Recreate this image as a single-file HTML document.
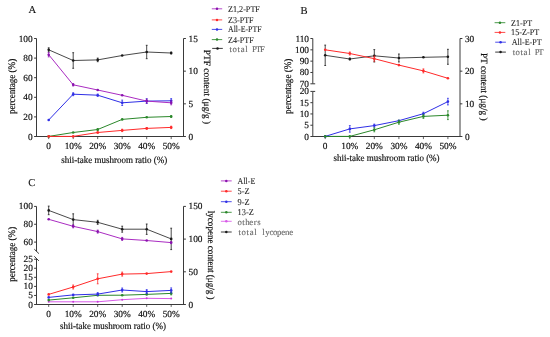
<!DOCTYPE html>
<html><head><meta charset="utf-8"><style>
html,body{margin:0;padding:0;background:#fff;}
svg{display:block;will-change:transform;text-rendering:geometricPrecision;}
</style></head><body>
<svg width="550" height="337" viewBox="0 0 550 337">
<rect width="550" height="337" fill="#fff"/>
<text x="28.50" y="12.80" font-family="Liberation Serif, serif" font-size="10.6" text-anchor="start" fill="#111" stroke="#111" stroke-width="0.12" >A</text>
<line x1="36.50" y1="38.50" x2="36.50" y2="137.00" stroke="#3a3a3a" stroke-width="1.0" />
<line x1="36.00" y1="136.50" x2="184.00" y2="136.50" stroke="#3a3a3a" stroke-width="1.0" />
<line x1="183.50" y1="38.50" x2="183.50" y2="137.00" stroke="#3a3a3a" stroke-width="1.0" />
<line x1="34.10" y1="136.50" x2="36.50" y2="136.50" stroke="#3a3a3a" stroke-width="1.0" />
<text x="32.60" y="139.50" font-family="Liberation Serif, serif" font-size="9.3" text-anchor="end" fill="#111" stroke="#111" stroke-width="0.18" >0</text>
<line x1="34.10" y1="116.90" x2="36.50" y2="116.90" stroke="#3a3a3a" stroke-width="1.0" />
<text x="32.60" y="119.90" font-family="Liberation Serif, serif" font-size="9.3" text-anchor="end" fill="#111" stroke="#111" stroke-width="0.18" >20</text>
<line x1="34.10" y1="97.30" x2="36.50" y2="97.30" stroke="#3a3a3a" stroke-width="1.0" />
<text x="32.60" y="100.30" font-family="Liberation Serif, serif" font-size="9.3" text-anchor="end" fill="#111" stroke="#111" stroke-width="0.18" >40</text>
<line x1="34.10" y1="77.70" x2="36.50" y2="77.70" stroke="#3a3a3a" stroke-width="1.0" />
<text x="32.60" y="80.70" font-family="Liberation Serif, serif" font-size="9.3" text-anchor="end" fill="#111" stroke="#111" stroke-width="0.18" >60</text>
<line x1="34.10" y1="58.10" x2="36.50" y2="58.10" stroke="#3a3a3a" stroke-width="1.0" />
<text x="32.60" y="61.10" font-family="Liberation Serif, serif" font-size="9.3" text-anchor="end" fill="#111" stroke="#111" stroke-width="0.18" >80</text>
<line x1="34.10" y1="38.50" x2="36.50" y2="38.50" stroke="#3a3a3a" stroke-width="1.0" />
<text x="32.60" y="41.50" font-family="Liberation Serif, serif" font-size="9.3" text-anchor="end" fill="#111" stroke="#111" stroke-width="0.18" >100</text>
<line x1="183.50" y1="136.50" x2="185.90" y2="136.50" stroke="#3a3a3a" stroke-width="1.0" />
<text x="188.50" y="139.50" font-family="Liberation Serif, serif" font-size="9.3" text-anchor="start" fill="#111" stroke="#111" stroke-width="0.18" >0</text>
<line x1="183.50" y1="103.83" x2="185.90" y2="103.83" stroke="#3a3a3a" stroke-width="1.0" />
<text x="188.50" y="106.83" font-family="Liberation Serif, serif" font-size="9.3" text-anchor="start" fill="#111" stroke="#111" stroke-width="0.18" >5</text>
<line x1="183.50" y1="71.17" x2="185.90" y2="71.17" stroke="#3a3a3a" stroke-width="1.0" />
<text x="188.50" y="74.17" font-family="Liberation Serif, serif" font-size="9.3" text-anchor="start" fill="#111" stroke="#111" stroke-width="0.18" >10</text>
<line x1="183.50" y1="38.50" x2="185.90" y2="38.50" stroke="#3a3a3a" stroke-width="1.0" />
<text x="188.50" y="41.50" font-family="Liberation Serif, serif" font-size="9.3" text-anchor="start" fill="#111" stroke="#111" stroke-width="0.18" >15</text>
<line x1="48.70" y1="136.50" x2="48.70" y2="139.10" stroke="#3a3a3a" stroke-width="0.8" />
<text x="48.70" y="148.50" font-family="Liberation Serif, serif" font-size="9.3" text-anchor="middle" fill="#111" stroke="#111" stroke-width="0.18" >0</text>
<line x1="73.20" y1="136.50" x2="73.20" y2="139.10" stroke="#3a3a3a" stroke-width="0.8" />
<text x="73.20" y="148.50" font-family="Liberation Serif, serif" font-size="9.3" text-anchor="middle" fill="#111" stroke="#111" stroke-width="0.18" >10%</text>
<line x1="97.70" y1="136.50" x2="97.70" y2="139.10" stroke="#3a3a3a" stroke-width="0.8" />
<text x="97.70" y="148.50" font-family="Liberation Serif, serif" font-size="9.3" text-anchor="middle" fill="#111" stroke="#111" stroke-width="0.18" >20%</text>
<line x1="122.20" y1="136.50" x2="122.20" y2="139.10" stroke="#3a3a3a" stroke-width="0.8" />
<text x="122.20" y="148.50" font-family="Liberation Serif, serif" font-size="9.3" text-anchor="middle" fill="#111" stroke="#111" stroke-width="0.18" >30%</text>
<line x1="146.70" y1="136.50" x2="146.70" y2="139.10" stroke="#3a3a3a" stroke-width="0.8" />
<text x="146.70" y="148.50" font-family="Liberation Serif, serif" font-size="9.3" text-anchor="middle" fill="#111" stroke="#111" stroke-width="0.18" >40%</text>
<line x1="171.20" y1="136.50" x2="171.20" y2="139.10" stroke="#3a3a3a" stroke-width="0.8" />
<text x="171.20" y="148.50" font-family="Liberation Serif, serif" font-size="9.3" text-anchor="middle" fill="#111" stroke="#111" stroke-width="0.18" >50%</text>
<text x="114.30" y="162.50" font-family="Liberation Serif, serif" font-size="9.6" text-anchor="middle" fill="#111" stroke="#111" stroke-width="0.18" textLength="106.00" lengthAdjust="spacingAndGlyphs" >shii-take mushroom ratio (%)</text>
<text x="14.80" y="86.40" font-family="Liberation Serif, serif" font-size="10.0" text-anchor="middle" fill="#111" stroke="#111" stroke-width="0.18" textLength="55.20" lengthAdjust="spacingAndGlyphs" transform="rotate(-90 14.80 86.40)" >percentage (%)</text>
<text x="203.90" y="87.00" font-family="Liberation Serif, serif" font-size="9.6" text-anchor="middle" fill="#111" stroke="#111" stroke-width="0.18" textLength="74.50" lengthAdjust="spacingAndGlyphs" transform="rotate(90 203.90 87.00)" >PTF content (μg/g )</text>
<polyline points="48.70,49.80 73.20,60.50 97.70,59.90 122.20,55.50 146.70,52.00 171.20,53.00" fill="none" stroke="#1a1a1a" stroke-width="0.8"/>
<line x1="48.70" y1="47.80" x2="48.70" y2="51.80" stroke="#1a1a1a" stroke-width="0.8" />
<line x1="47.80" y1="47.80" x2="49.60" y2="47.80" stroke="#1a1a1a" stroke-width="0.8" />
<line x1="47.80" y1="51.80" x2="49.60" y2="51.80" stroke="#1a1a1a" stroke-width="0.8" />
<line x1="73.20" y1="52.70" x2="73.20" y2="68.30" stroke="#1a1a1a" stroke-width="0.8" />
<line x1="72.30" y1="52.70" x2="74.10" y2="52.70" stroke="#1a1a1a" stroke-width="0.8" />
<line x1="72.30" y1="68.30" x2="74.10" y2="68.30" stroke="#1a1a1a" stroke-width="0.8" />
<line x1="97.70" y1="58.10" x2="97.70" y2="61.70" stroke="#1a1a1a" stroke-width="0.8" />
<line x1="96.80" y1="58.10" x2="98.60" y2="58.10" stroke="#1a1a1a" stroke-width="0.8" />
<line x1="96.80" y1="61.70" x2="98.60" y2="61.70" stroke="#1a1a1a" stroke-width="0.8" />
<line x1="146.70" y1="45.30" x2="146.70" y2="58.70" stroke="#1a1a1a" stroke-width="0.8" />
<line x1="145.80" y1="45.30" x2="147.60" y2="45.30" stroke="#1a1a1a" stroke-width="0.8" />
<line x1="145.80" y1="58.70" x2="147.60" y2="58.70" stroke="#1a1a1a" stroke-width="0.8" />
<line x1="171.20" y1="52.00" x2="171.20" y2="54.00" stroke="#1a1a1a" stroke-width="0.8" />
<line x1="170.30" y1="52.00" x2="172.10" y2="52.00" stroke="#1a1a1a" stroke-width="0.8" />
<line x1="170.30" y1="54.00" x2="172.10" y2="54.00" stroke="#1a1a1a" stroke-width="0.8" />
<circle cx="48.70" cy="49.80" r="1.3" fill="#1a1a1a"/>
<circle cx="73.20" cy="60.50" r="1.3" fill="#1a1a1a"/>
<circle cx="97.70" cy="59.90" r="1.3" fill="#1a1a1a"/>
<circle cx="122.20" cy="55.50" r="1.3" fill="#1a1a1a"/>
<circle cx="146.70" cy="52.00" r="1.3" fill="#1a1a1a"/>
<circle cx="171.20" cy="53.00" r="1.3" fill="#1a1a1a"/>
<polyline points="48.70,136.40 73.20,132.50 97.70,129.50 122.20,119.40 146.70,117.30 171.20,116.50" fill="none" stroke="#2b882b" stroke-width="1.0"/>
<line x1="97.70" y1="128.50" x2="97.70" y2="130.50" stroke="#2b882b" stroke-width="0.8" />
<line x1="96.80" y1="128.50" x2="98.60" y2="128.50" stroke="#2b882b" stroke-width="0.8" />
<line x1="96.80" y1="130.50" x2="98.60" y2="130.50" stroke="#2b882b" stroke-width="0.8" />
<line x1="171.20" y1="115.50" x2="171.20" y2="117.50" stroke="#2b882b" stroke-width="0.8" />
<line x1="170.30" y1="115.50" x2="172.10" y2="115.50" stroke="#2b882b" stroke-width="0.8" />
<line x1="170.30" y1="117.50" x2="172.10" y2="117.50" stroke="#2b882b" stroke-width="0.8" />
<circle cx="48.70" cy="136.40" r="1.3" fill="#2b882b"/>
<circle cx="73.20" cy="132.50" r="1.3" fill="#2b882b"/>
<circle cx="97.70" cy="129.50" r="1.3" fill="#2b882b"/>
<circle cx="122.20" cy="119.40" r="1.3" fill="#2b882b"/>
<circle cx="146.70" cy="117.30" r="1.3" fill="#2b882b"/>
<circle cx="171.20" cy="116.50" r="1.3" fill="#2b882b"/>
<polyline points="48.70,136.40 73.20,136.40 97.70,132.50 122.20,130.40 146.70,128.40 171.20,127.40" fill="none" stroke="#ff2a2a" stroke-width="1.0"/>
<line x1="97.70" y1="131.70" x2="97.70" y2="133.30" stroke="#ff2a2a" stroke-width="0.8" />
<line x1="96.80" y1="131.70" x2="98.60" y2="131.70" stroke="#ff2a2a" stroke-width="0.8" />
<line x1="96.80" y1="133.30" x2="98.60" y2="133.30" stroke="#ff2a2a" stroke-width="0.8" />
<line x1="122.20" y1="129.20" x2="122.20" y2="131.60" stroke="#ff2a2a" stroke-width="0.8" />
<line x1="121.30" y1="129.20" x2="123.10" y2="129.20" stroke="#ff2a2a" stroke-width="0.8" />
<line x1="121.30" y1="131.60" x2="123.10" y2="131.60" stroke="#ff2a2a" stroke-width="0.8" />
<line x1="146.70" y1="127.60" x2="146.70" y2="129.20" stroke="#ff2a2a" stroke-width="0.8" />
<line x1="145.80" y1="127.60" x2="147.60" y2="127.60" stroke="#ff2a2a" stroke-width="0.8" />
<line x1="145.80" y1="129.20" x2="147.60" y2="129.20" stroke="#ff2a2a" stroke-width="0.8" />
<line x1="171.20" y1="126.20" x2="171.20" y2="128.60" stroke="#ff2a2a" stroke-width="0.8" />
<line x1="170.30" y1="126.20" x2="172.10" y2="126.20" stroke="#ff2a2a" stroke-width="0.8" />
<line x1="170.30" y1="128.60" x2="172.10" y2="128.60" stroke="#ff2a2a" stroke-width="0.8" />
<circle cx="48.70" cy="136.40" r="1.3" fill="#ff2a2a"/>
<circle cx="73.20" cy="136.40" r="1.3" fill="#ff2a2a"/>
<circle cx="97.70" cy="132.50" r="1.3" fill="#ff2a2a"/>
<circle cx="122.20" cy="130.40" r="1.3" fill="#ff2a2a"/>
<circle cx="146.70" cy="128.40" r="1.3" fill="#ff2a2a"/>
<circle cx="171.20" cy="127.40" r="1.3" fill="#ff2a2a"/>
<polyline points="48.70,120.00 73.20,94.20 97.70,95.20 122.20,102.80 146.70,101.10 171.20,100.80" fill="none" stroke="#2f2fe6" stroke-width="1.0"/>
<line x1="73.20" y1="92.70" x2="73.20" y2="95.70" stroke="#2f2fe6" stroke-width="0.8" />
<line x1="72.30" y1="92.70" x2="74.10" y2="92.70" stroke="#2f2fe6" stroke-width="0.8" />
<line x1="72.30" y1="95.70" x2="74.10" y2="95.70" stroke="#2f2fe6" stroke-width="0.8" />
<line x1="97.70" y1="94.00" x2="97.70" y2="96.40" stroke="#2f2fe6" stroke-width="0.8" />
<line x1="96.80" y1="94.00" x2="98.60" y2="94.00" stroke="#2f2fe6" stroke-width="0.8" />
<line x1="96.80" y1="96.40" x2="98.60" y2="96.40" stroke="#2f2fe6" stroke-width="0.8" />
<line x1="122.20" y1="100.10" x2="122.20" y2="105.50" stroke="#2f2fe6" stroke-width="0.8" />
<line x1="121.30" y1="100.10" x2="123.10" y2="100.10" stroke="#2f2fe6" stroke-width="0.8" />
<line x1="121.30" y1="105.50" x2="123.10" y2="105.50" stroke="#2f2fe6" stroke-width="0.8" />
<line x1="146.70" y1="98.70" x2="146.70" y2="103.50" stroke="#2f2fe6" stroke-width="0.8" />
<line x1="145.80" y1="98.70" x2="147.60" y2="98.70" stroke="#2f2fe6" stroke-width="0.8" />
<line x1="145.80" y1="103.50" x2="147.60" y2="103.50" stroke="#2f2fe6" stroke-width="0.8" />
<line x1="171.20" y1="98.60" x2="171.20" y2="103.00" stroke="#2f2fe6" stroke-width="0.8" />
<line x1="170.30" y1="98.60" x2="172.10" y2="98.60" stroke="#2f2fe6" stroke-width="0.8" />
<line x1="170.30" y1="103.00" x2="172.10" y2="103.00" stroke="#2f2fe6" stroke-width="0.8" />
<circle cx="48.70" cy="120.00" r="1.3" fill="#2f2fe6"/>
<circle cx="73.20" cy="94.20" r="1.3" fill="#2f2fe6"/>
<circle cx="97.70" cy="95.20" r="1.3" fill="#2f2fe6"/>
<circle cx="122.20" cy="102.80" r="1.3" fill="#2f2fe6"/>
<circle cx="146.70" cy="101.10" r="1.3" fill="#2f2fe6"/>
<circle cx="171.20" cy="100.80" r="1.3" fill="#2f2fe6"/>
<polyline points="48.70,54.70 73.20,84.80 97.70,90.00 122.20,95.30 146.70,101.10 171.20,102.80" fill="none" stroke="#aa2cc2" stroke-width="1.0"/>
<line x1="48.70" y1="52.50" x2="48.70" y2="56.90" stroke="#8a12ae" stroke-width="0.8" />
<line x1="47.80" y1="52.50" x2="49.60" y2="52.50" stroke="#8a12ae" stroke-width="0.8" />
<line x1="47.80" y1="56.90" x2="49.60" y2="56.90" stroke="#8a12ae" stroke-width="0.8" />
<line x1="73.20" y1="83.60" x2="73.20" y2="86.00" stroke="#8a12ae" stroke-width="0.8" />
<line x1="72.30" y1="83.60" x2="74.10" y2="83.60" stroke="#8a12ae" stroke-width="0.8" />
<line x1="72.30" y1="86.00" x2="74.10" y2="86.00" stroke="#8a12ae" stroke-width="0.8" />
<line x1="146.70" y1="99.10" x2="146.70" y2="103.10" stroke="#8a12ae" stroke-width="0.8" />
<line x1="145.80" y1="99.10" x2="147.60" y2="99.10" stroke="#8a12ae" stroke-width="0.8" />
<line x1="145.80" y1="103.10" x2="147.60" y2="103.10" stroke="#8a12ae" stroke-width="0.8" />
<line x1="171.20" y1="100.80" x2="171.20" y2="104.80" stroke="#8a12ae" stroke-width="0.8" />
<line x1="170.30" y1="100.80" x2="172.10" y2="100.80" stroke="#8a12ae" stroke-width="0.8" />
<line x1="170.30" y1="104.80" x2="172.10" y2="104.80" stroke="#8a12ae" stroke-width="0.8" />
<circle cx="48.70" cy="54.70" r="1.3" fill="#8a12ae"/>
<circle cx="73.20" cy="84.80" r="1.3" fill="#8a12ae"/>
<circle cx="97.70" cy="90.00" r="1.3" fill="#8a12ae"/>
<circle cx="122.20" cy="95.30" r="1.3" fill="#8a12ae"/>
<circle cx="146.70" cy="101.10" r="1.3" fill="#8a12ae"/>
<circle cx="171.20" cy="102.80" r="1.3" fill="#8a12ae"/>
<line x1="211.80" y1="8.80" x2="222.20" y2="8.80" stroke="#aa2cc2" stroke-width="1.0" stroke-opacity="0.85"/>
<circle cx="217.00" cy="8.80" r="1.25" fill="#8a12ae"/>
<text x="228.00" y="11.70" font-family="Liberation Serif, serif" font-size="8.9" text-anchor="start" fill="#222" stroke="#222" stroke-width="0.08" textLength="31.90" lengthAdjust="spacingAndGlyphs" >Z1,2-PTF</text>
<line x1="211.80" y1="19.90" x2="222.20" y2="19.90" stroke="#ff2a2a" stroke-width="1.0" stroke-opacity="0.85"/>
<circle cx="217.00" cy="19.90" r="1.25" fill="#ff2a2a"/>
<text x="228.00" y="22.80" font-family="Liberation Serif, serif" font-size="8.9" text-anchor="start" fill="#222" stroke="#222" stroke-width="0.08" textLength="25.60" lengthAdjust="spacingAndGlyphs" >Z3-PTF</text>
<line x1="211.80" y1="29.40" x2="222.20" y2="29.40" stroke="#2f2fe6" stroke-width="1.0" stroke-opacity="0.85"/>
<circle cx="217.00" cy="29.40" r="1.25" fill="#2f2fe6"/>
<text x="228.00" y="32.30" font-family="Liberation Serif, serif" font-size="8.9" text-anchor="start" fill="#222" stroke="#222" stroke-width="0.08" textLength="33.60" lengthAdjust="spacingAndGlyphs" >All-E-PTF</text>
<line x1="211.80" y1="39.60" x2="222.20" y2="39.60" stroke="#2b882b" stroke-width="1.0" stroke-opacity="0.85"/>
<circle cx="217.00" cy="39.60" r="1.25" fill="#2b882b"/>
<text x="228.00" y="42.50" font-family="Liberation Serif, serif" font-size="8.9" text-anchor="start" fill="#222" stroke="#222" stroke-width="0.08" textLength="25.70" lengthAdjust="spacingAndGlyphs" >Z4-PTF</text>
<line x1="212.20" y1="48.40" x2="222.80" y2="48.40" stroke="#1a1a1a" stroke-width="1.0" stroke-opacity="0.85"/>
<circle cx="217.50" cy="48.40" r="1.25" fill="#1a1a1a"/>
<text x="229.55 232.53 237.46 240.69 245.37 249.45 252.06 255.77 259.97" y="51.60" font-family="Liberation Serif, serif" font-size="8.8" fill="#666" stroke="#666" stroke-width="0.1" xml:space="preserve">total PTF</text>
<text x="300.40" y="14.40" font-family="Liberation Serif, serif" font-size="10.6" text-anchor="start" fill="#111" stroke="#111" stroke-width="0.12" >B</text>
<line x1="312.80" y1="38.50" x2="312.80" y2="83.80" stroke="#3a3a3a" stroke-width="1.0" />
<line x1="310.40" y1="83.80" x2="312.80" y2="83.80" stroke="#3a3a3a" stroke-width="1.0" />
<text x="309.00" y="86.80" font-family="Liberation Serif, serif" font-size="9.3" text-anchor="end" fill="#111" stroke="#111" stroke-width="0.18" >70</text>
<line x1="310.40" y1="72.47" x2="312.80" y2="72.47" stroke="#3a3a3a" stroke-width="1.0" />
<text x="309.00" y="75.47" font-family="Liberation Serif, serif" font-size="9.3" text-anchor="end" fill="#111" stroke="#111" stroke-width="0.18" >80</text>
<line x1="310.40" y1="61.15" x2="312.80" y2="61.15" stroke="#3a3a3a" stroke-width="1.0" />
<text x="309.00" y="64.15" font-family="Liberation Serif, serif" font-size="9.3" text-anchor="end" fill="#111" stroke="#111" stroke-width="0.18" >90</text>
<line x1="310.40" y1="49.83" x2="312.80" y2="49.83" stroke="#3a3a3a" stroke-width="1.0" />
<text x="309.00" y="52.83" font-family="Liberation Serif, serif" font-size="9.3" text-anchor="end" fill="#111" stroke="#111" stroke-width="0.18" >100</text>
<line x1="310.40" y1="38.50" x2="312.80" y2="38.50" stroke="#3a3a3a" stroke-width="1.0" />
<text x="309.00" y="41.50" font-family="Liberation Serif, serif" font-size="9.3" text-anchor="end" fill="#111" stroke="#111" stroke-width="0.18" >110</text>
<line x1="312.80" y1="83.80" x2="315.20" y2="83.80" stroke="#3a3a3a" stroke-width="1.0" />
<line x1="312.80" y1="91.40" x2="312.80" y2="137.00" stroke="#3a3a3a" stroke-width="1.0" />
<line x1="310.40" y1="136.50" x2="312.80" y2="136.50" stroke="#3a3a3a" stroke-width="1.0" />
<text x="309.00" y="139.50" font-family="Liberation Serif, serif" font-size="9.3" text-anchor="end" fill="#111" stroke="#111" stroke-width="0.18" >0</text>
<line x1="310.40" y1="125.22" x2="312.80" y2="125.22" stroke="#3a3a3a" stroke-width="1.0" />
<text x="309.00" y="128.22" font-family="Liberation Serif, serif" font-size="9.3" text-anchor="end" fill="#111" stroke="#111" stroke-width="0.18" >5</text>
<line x1="310.40" y1="113.95" x2="312.80" y2="113.95" stroke="#3a3a3a" stroke-width="1.0" />
<text x="309.00" y="116.95" font-family="Liberation Serif, serif" font-size="9.3" text-anchor="end" fill="#111" stroke="#111" stroke-width="0.18" >10</text>
<line x1="310.40" y1="102.68" x2="312.80" y2="102.68" stroke="#3a3a3a" stroke-width="1.0" />
<text x="309.00" y="105.68" font-family="Liberation Serif, serif" font-size="9.3" text-anchor="end" fill="#111" stroke="#111" stroke-width="0.18" >15</text>
<line x1="310.40" y1="91.40" x2="312.80" y2="91.40" stroke="#3a3a3a" stroke-width="1.0" />
<text x="309.00" y="94.40" font-family="Liberation Serif, serif" font-size="9.3" text-anchor="end" fill="#111" stroke="#111" stroke-width="0.18" >20</text>
<line x1="312.80" y1="91.40" x2="315.20" y2="91.40" stroke="#3a3a3a" stroke-width="1.0" />
<line x1="312.30" y1="136.50" x2="460.50" y2="136.50" stroke="#3a3a3a" stroke-width="1.0" />
<line x1="460.00" y1="38.50" x2="460.00" y2="137.00" stroke="#3a3a3a" stroke-width="1.0" />
<line x1="460.00" y1="136.50" x2="462.40" y2="136.50" stroke="#3a3a3a" stroke-width="1.0" />
<text x="464.90" y="139.50" font-family="Liberation Serif, serif" font-size="9.3" text-anchor="start" fill="#111" stroke="#111" stroke-width="0.18" >0</text>
<line x1="460.00" y1="103.83" x2="462.40" y2="103.83" stroke="#3a3a3a" stroke-width="1.0" />
<text x="464.90" y="106.83" font-family="Liberation Serif, serif" font-size="9.3" text-anchor="start" fill="#111" stroke="#111" stroke-width="0.18" >10</text>
<line x1="460.00" y1="71.17" x2="462.40" y2="71.17" stroke="#3a3a3a" stroke-width="1.0" />
<text x="464.90" y="74.17" font-family="Liberation Serif, serif" font-size="9.3" text-anchor="start" fill="#111" stroke="#111" stroke-width="0.18" >20</text>
<line x1="460.00" y1="38.50" x2="462.40" y2="38.50" stroke="#3a3a3a" stroke-width="1.0" />
<text x="464.90" y="41.50" font-family="Liberation Serif, serif" font-size="9.3" text-anchor="start" fill="#111" stroke="#111" stroke-width="0.18" >30</text>
<line x1="325.20" y1="136.50" x2="325.20" y2="139.10" stroke="#3a3a3a" stroke-width="0.8" />
<text x="325.20" y="148.60" font-family="Liberation Serif, serif" font-size="9.3" text-anchor="middle" fill="#111" stroke="#111" stroke-width="0.18" >0</text>
<line x1="349.80" y1="136.50" x2="349.80" y2="139.10" stroke="#3a3a3a" stroke-width="0.8" />
<text x="349.80" y="148.60" font-family="Liberation Serif, serif" font-size="9.3" text-anchor="middle" fill="#111" stroke="#111" stroke-width="0.18" >10%</text>
<line x1="374.30" y1="136.50" x2="374.30" y2="139.10" stroke="#3a3a3a" stroke-width="0.8" />
<text x="374.30" y="148.60" font-family="Liberation Serif, serif" font-size="9.3" text-anchor="middle" fill="#111" stroke="#111" stroke-width="0.18" >20%</text>
<line x1="398.90" y1="136.50" x2="398.90" y2="139.10" stroke="#3a3a3a" stroke-width="0.8" />
<text x="398.90" y="148.60" font-family="Liberation Serif, serif" font-size="9.3" text-anchor="middle" fill="#111" stroke="#111" stroke-width="0.18" >30%</text>
<line x1="423.40" y1="136.50" x2="423.40" y2="139.10" stroke="#3a3a3a" stroke-width="0.8" />
<text x="423.40" y="148.60" font-family="Liberation Serif, serif" font-size="9.3" text-anchor="middle" fill="#111" stroke="#111" stroke-width="0.18" >40%</text>
<line x1="447.90" y1="136.50" x2="447.90" y2="139.10" stroke="#3a3a3a" stroke-width="0.8" />
<text x="447.90" y="148.60" font-family="Liberation Serif, serif" font-size="9.3" text-anchor="middle" fill="#111" stroke="#111" stroke-width="0.18" >50%</text>
<text x="386.60" y="160.80" font-family="Liberation Serif, serif" font-size="9.6" text-anchor="middle" fill="#111" stroke="#111" stroke-width="0.18" textLength="106.00" lengthAdjust="spacingAndGlyphs" >shii-take mushroom ratio (%)</text>
<text x="291.00" y="86.30" font-family="Liberation Serif, serif" font-size="10.0" text-anchor="middle" fill="#111" stroke="#111" stroke-width="0.18" textLength="55.20" lengthAdjust="spacingAndGlyphs" transform="rotate(-90 291.00 86.30)" >percentage (%)</text>
<text x="481.00" y="86.80" font-family="Liberation Serif, serif" font-size="9.6" text-anchor="middle" fill="#111" stroke="#111" stroke-width="0.18" textLength="67.40" lengthAdjust="spacingAndGlyphs" transform="rotate(90 481.00 86.80)" >PT content (μg/g )</text>
<polyline points="325.20,55.30 349.80,59.00 374.30,55.80 398.90,58.00 423.40,57.30 447.90,56.80" fill="none" stroke="#1a1a1a" stroke-width="0.8"/>
<line x1="325.20" y1="45.10" x2="325.20" y2="65.50" stroke="#1a1a1a" stroke-width="0.8" />
<line x1="324.30" y1="45.10" x2="326.10" y2="45.10" stroke="#1a1a1a" stroke-width="0.8" />
<line x1="324.30" y1="65.50" x2="326.10" y2="65.50" stroke="#1a1a1a" stroke-width="0.8" />
<line x1="349.80" y1="58.00" x2="349.80" y2="60.00" stroke="#1a1a1a" stroke-width="0.8" />
<line x1="348.90" y1="58.00" x2="350.70" y2="58.00" stroke="#1a1a1a" stroke-width="0.8" />
<line x1="348.90" y1="60.00" x2="350.70" y2="60.00" stroke="#1a1a1a" stroke-width="0.8" />
<line x1="374.30" y1="49.60" x2="374.30" y2="62.00" stroke="#1a1a1a" stroke-width="0.8" />
<line x1="373.40" y1="49.60" x2="375.20" y2="49.60" stroke="#1a1a1a" stroke-width="0.8" />
<line x1="373.40" y1="62.00" x2="375.20" y2="62.00" stroke="#1a1a1a" stroke-width="0.8" />
<line x1="398.90" y1="54.00" x2="398.90" y2="62.00" stroke="#1a1a1a" stroke-width="0.8" />
<line x1="398.00" y1="54.00" x2="399.80" y2="54.00" stroke="#1a1a1a" stroke-width="0.8" />
<line x1="398.00" y1="62.00" x2="399.80" y2="62.00" stroke="#1a1a1a" stroke-width="0.8" />
<line x1="447.90" y1="49.30" x2="447.90" y2="64.30" stroke="#1a1a1a" stroke-width="0.8" />
<line x1="447.00" y1="49.30" x2="448.80" y2="49.30" stroke="#1a1a1a" stroke-width="0.8" />
<line x1="447.00" y1="64.30" x2="448.80" y2="64.30" stroke="#1a1a1a" stroke-width="0.8" />
<circle cx="325.20" cy="55.30" r="1.3" fill="#1a1a1a"/>
<circle cx="349.80" cy="59.00" r="1.3" fill="#1a1a1a"/>
<circle cx="374.30" cy="55.80" r="1.3" fill="#1a1a1a"/>
<circle cx="398.90" cy="58.00" r="1.3" fill="#1a1a1a"/>
<circle cx="423.40" cy="57.30" r="1.3" fill="#1a1a1a"/>
<circle cx="447.90" cy="56.80" r="1.3" fill="#1a1a1a"/>
<polyline points="325.20,49.80 349.80,53.50 374.30,58.70 398.90,65.10 423.40,70.90 447.90,78.30" fill="none" stroke="#ff2a2a" stroke-width="1.0"/>
<line x1="349.80" y1="52.00" x2="349.80" y2="55.00" stroke="#ff2a2a" stroke-width="0.8" />
<line x1="348.90" y1="52.00" x2="350.70" y2="52.00" stroke="#ff2a2a" stroke-width="0.8" />
<line x1="348.90" y1="55.00" x2="350.70" y2="55.00" stroke="#ff2a2a" stroke-width="0.8" />
<line x1="374.30" y1="56.20" x2="374.30" y2="61.20" stroke="#ff2a2a" stroke-width="0.8" />
<line x1="373.40" y1="56.20" x2="375.20" y2="56.20" stroke="#ff2a2a" stroke-width="0.8" />
<line x1="373.40" y1="61.20" x2="375.20" y2="61.20" stroke="#ff2a2a" stroke-width="0.8" />
<line x1="423.40" y1="68.90" x2="423.40" y2="72.90" stroke="#ff2a2a" stroke-width="0.8" />
<line x1="422.50" y1="68.90" x2="424.30" y2="68.90" stroke="#ff2a2a" stroke-width="0.8" />
<line x1="422.50" y1="72.90" x2="424.30" y2="72.90" stroke="#ff2a2a" stroke-width="0.8" />
<circle cx="325.20" cy="49.80" r="1.3" fill="#ff2a2a"/>
<circle cx="349.80" cy="53.50" r="1.3" fill="#ff2a2a"/>
<circle cx="374.30" cy="58.70" r="1.3" fill="#ff2a2a"/>
<circle cx="398.90" cy="65.10" r="1.3" fill="#ff2a2a"/>
<circle cx="423.40" cy="70.90" r="1.3" fill="#ff2a2a"/>
<circle cx="447.90" cy="78.30" r="1.3" fill="#ff2a2a"/>
<polyline points="325.20,136.40 349.80,128.90 374.30,125.60 398.90,120.70 423.40,113.70 447.90,101.60" fill="none" stroke="#2f2fe6" stroke-width="1.0"/>
<line x1="349.80" y1="125.60" x2="349.80" y2="132.20" stroke="#2f2fe6" stroke-width="0.8" />
<line x1="348.90" y1="125.60" x2="350.70" y2="125.60" stroke="#2f2fe6" stroke-width="0.8" />
<line x1="348.90" y1="132.20" x2="350.70" y2="132.20" stroke="#2f2fe6" stroke-width="0.8" />
<line x1="374.30" y1="124.10" x2="374.30" y2="127.10" stroke="#2f2fe6" stroke-width="0.8" />
<line x1="373.40" y1="124.10" x2="375.20" y2="124.10" stroke="#2f2fe6" stroke-width="0.8" />
<line x1="373.40" y1="127.10" x2="375.20" y2="127.10" stroke="#2f2fe6" stroke-width="0.8" />
<line x1="423.40" y1="112.20" x2="423.40" y2="115.20" stroke="#2f2fe6" stroke-width="0.8" />
<line x1="422.50" y1="112.20" x2="424.30" y2="112.20" stroke="#2f2fe6" stroke-width="0.8" />
<line x1="422.50" y1="115.20" x2="424.30" y2="115.20" stroke="#2f2fe6" stroke-width="0.8" />
<line x1="447.90" y1="98.30" x2="447.90" y2="104.90" stroke="#2f2fe6" stroke-width="0.8" />
<line x1="447.00" y1="98.30" x2="448.80" y2="98.30" stroke="#2f2fe6" stroke-width="0.8" />
<line x1="447.00" y1="104.90" x2="448.80" y2="104.90" stroke="#2f2fe6" stroke-width="0.8" />
<circle cx="325.20" cy="136.40" r="1.3" fill="#2f2fe6"/>
<circle cx="349.80" cy="128.90" r="1.3" fill="#2f2fe6"/>
<circle cx="374.30" cy="125.60" r="1.3" fill="#2f2fe6"/>
<circle cx="398.90" cy="120.70" r="1.3" fill="#2f2fe6"/>
<circle cx="423.40" cy="113.70" r="1.3" fill="#2f2fe6"/>
<circle cx="447.90" cy="101.60" r="1.3" fill="#2f2fe6"/>
<polyline points="325.20,136.40 349.80,136.40 374.30,129.80 398.90,122.20 423.40,116.40 447.90,115.20" fill="none" stroke="#2b882b" stroke-width="1.0"/>
<line x1="374.30" y1="127.80" x2="374.30" y2="131.80" stroke="#2b882b" stroke-width="0.8" />
<line x1="373.40" y1="127.80" x2="375.20" y2="127.80" stroke="#2b882b" stroke-width="0.8" />
<line x1="373.40" y1="131.80" x2="375.20" y2="131.80" stroke="#2b882b" stroke-width="0.8" />
<line x1="398.90" y1="120.20" x2="398.90" y2="124.20" stroke="#2b882b" stroke-width="0.8" />
<line x1="398.00" y1="120.20" x2="399.80" y2="120.20" stroke="#2b882b" stroke-width="0.8" />
<line x1="398.00" y1="124.20" x2="399.80" y2="124.20" stroke="#2b882b" stroke-width="0.8" />
<line x1="423.40" y1="114.40" x2="423.40" y2="118.40" stroke="#2b882b" stroke-width="0.8" />
<line x1="422.50" y1="114.40" x2="424.30" y2="114.40" stroke="#2b882b" stroke-width="0.8" />
<line x1="422.50" y1="118.40" x2="424.30" y2="118.40" stroke="#2b882b" stroke-width="0.8" />
<line x1="447.90" y1="110.80" x2="447.90" y2="119.60" stroke="#2b882b" stroke-width="0.8" />
<line x1="447.00" y1="110.80" x2="448.80" y2="110.80" stroke="#2b882b" stroke-width="0.8" />
<line x1="447.00" y1="119.60" x2="448.80" y2="119.60" stroke="#2b882b" stroke-width="0.8" />
<circle cx="325.20" cy="136.40" r="1.3" fill="#2b882b"/>
<circle cx="349.80" cy="136.40" r="1.3" fill="#2b882b"/>
<circle cx="374.30" cy="129.80" r="1.3" fill="#2b882b"/>
<circle cx="398.90" cy="122.20" r="1.3" fill="#2b882b"/>
<circle cx="423.40" cy="116.40" r="1.3" fill="#2b882b"/>
<circle cx="447.90" cy="115.20" r="1.3" fill="#2b882b"/>
<line x1="494.60" y1="22.70" x2="505.30" y2="22.70" stroke="#2b882b" stroke-width="1.0" stroke-opacity="0.85"/>
<circle cx="499.95" cy="22.70" r="1.25" fill="#2b882b"/>
<text x="511.10" y="25.60" font-family="Liberation Serif, serif" font-size="8.9" text-anchor="start" fill="#222" stroke="#222" stroke-width="0.08" textLength="21.00" lengthAdjust="spacingAndGlyphs" >Z1-PT</text>
<line x1="494.60" y1="32.40" x2="505.30" y2="32.40" stroke="#ff2a2a" stroke-width="1.0" stroke-opacity="0.85"/>
<circle cx="499.95" cy="32.40" r="1.25" fill="#ff2a2a"/>
<text x="511.10" y="35.30" font-family="Liberation Serif, serif" font-size="8.9" text-anchor="start" fill="#222" stroke="#222" stroke-width="0.08" textLength="28.10" lengthAdjust="spacingAndGlyphs" >15-Z-PT</text>
<line x1="495.20" y1="42.20" x2="505.90" y2="42.20" stroke="#2f2fe6" stroke-width="1.0" stroke-opacity="0.85"/>
<circle cx="500.55" cy="42.20" r="1.25" fill="#2f2fe6"/>
<text x="511.70" y="45.10" font-family="Liberation Serif, serif" font-size="8.9" text-anchor="start" fill="#222" stroke="#222" stroke-width="0.08" textLength="30.00" lengthAdjust="spacingAndGlyphs" >All-E-PT</text>
<line x1="495.20" y1="52.10" x2="505.90" y2="52.10" stroke="#1a1a1a" stroke-width="1.0" stroke-opacity="0.85"/>
<circle cx="500.55" cy="52.10" r="1.25" fill="#1a1a1a"/>
<text x="512.71 515.59 520.43 523.56 528.15 532.13 534.64 538.26" y="55.30" font-family="Liberation Serif, serif" font-size="8.8" fill="#666" stroke="#666" stroke-width="0.1" xml:space="preserve">total PT</text>
<text x="28.30" y="186.40" font-family="Liberation Serif, serif" font-size="10.6" text-anchor="start" fill="#111" stroke="#111" stroke-width="0.12" >C</text>
<line x1="36.50" y1="206.40" x2="36.50" y2="251.30" stroke="#3a3a3a" stroke-width="1.0" />
<line x1="34.10" y1="242.10" x2="36.50" y2="242.10" stroke="#3a3a3a" stroke-width="1.0" />
<text x="32.80" y="245.10" font-family="Liberation Serif, serif" font-size="9.3" text-anchor="end" fill="#111" stroke="#111" stroke-width="0.18" >60</text>
<line x1="34.10" y1="224.25" x2="36.50" y2="224.25" stroke="#3a3a3a" stroke-width="1.0" />
<text x="32.80" y="227.25" font-family="Liberation Serif, serif" font-size="9.3" text-anchor="end" fill="#111" stroke="#111" stroke-width="0.18" >80</text>
<line x1="34.10" y1="206.40" x2="36.50" y2="206.40" stroke="#3a3a3a" stroke-width="1.0" />
<text x="32.80" y="209.40" font-family="Liberation Serif, serif" font-size="9.3" text-anchor="end" fill="#111" stroke="#111" stroke-width="0.18" >100</text>
<line x1="34.30" y1="249.20" x2="38.90" y2="253.60" stroke="#3a3a3a" stroke-width="1.0" />
<line x1="34.30" y1="256.30" x2="38.90" y2="260.90" stroke="#3a3a3a" stroke-width="1.0" />
<line x1="36.50" y1="258.60" x2="36.50" y2="305.00" stroke="#3a3a3a" stroke-width="1.0" />
<line x1="34.10" y1="304.50" x2="36.50" y2="304.50" stroke="#3a3a3a" stroke-width="1.0" />
<text x="32.80" y="307.50" font-family="Liberation Serif, serif" font-size="9.3" text-anchor="end" fill="#111" stroke="#111" stroke-width="0.18" >0</text>
<line x1="34.10" y1="295.44" x2="36.50" y2="295.44" stroke="#3a3a3a" stroke-width="1.0" />
<text x="32.80" y="298.44" font-family="Liberation Serif, serif" font-size="9.3" text-anchor="end" fill="#111" stroke="#111" stroke-width="0.18" >5</text>
<line x1="34.10" y1="286.38" x2="36.50" y2="286.38" stroke="#3a3a3a" stroke-width="1.0" />
<text x="32.80" y="289.38" font-family="Liberation Serif, serif" font-size="9.3" text-anchor="end" fill="#111" stroke="#111" stroke-width="0.18" >10</text>
<line x1="34.10" y1="277.32" x2="36.50" y2="277.32" stroke="#3a3a3a" stroke-width="1.0" />
<text x="32.80" y="280.32" font-family="Liberation Serif, serif" font-size="9.3" text-anchor="end" fill="#111" stroke="#111" stroke-width="0.18" >15</text>
<line x1="34.10" y1="268.26" x2="36.50" y2="268.26" stroke="#3a3a3a" stroke-width="1.0" />
<text x="32.80" y="271.26" font-family="Liberation Serif, serif" font-size="9.3" text-anchor="end" fill="#111" stroke="#111" stroke-width="0.18" >20</text>
<line x1="34.10" y1="259.20" x2="36.50" y2="259.20" stroke="#3a3a3a" stroke-width="1.0" />
<text x="32.80" y="262.20" font-family="Liberation Serif, serif" font-size="9.3" text-anchor="end" fill="#111" stroke="#111" stroke-width="0.18" >25</text>
<line x1="36.00" y1="304.50" x2="184.00" y2="304.50" stroke="#3a3a3a" stroke-width="1.0" />
<line x1="183.50" y1="206.40" x2="183.50" y2="305.00" stroke="#3a3a3a" stroke-width="1.0" />
<line x1="183.50" y1="304.50" x2="185.90" y2="304.50" stroke="#3a3a3a" stroke-width="1.0" />
<text x="188.50" y="307.50" font-family="Liberation Serif, serif" font-size="9.3" text-anchor="start" fill="#111" stroke="#111" stroke-width="0.18" >0</text>
<line x1="183.50" y1="271.80" x2="185.90" y2="271.80" stroke="#3a3a3a" stroke-width="1.0" />
<text x="188.50" y="274.80" font-family="Liberation Serif, serif" font-size="9.3" text-anchor="start" fill="#111" stroke="#111" stroke-width="0.18" >50</text>
<line x1="183.50" y1="239.10" x2="185.90" y2="239.10" stroke="#3a3a3a" stroke-width="1.0" />
<text x="188.50" y="242.10" font-family="Liberation Serif, serif" font-size="9.3" text-anchor="start" fill="#111" stroke="#111" stroke-width="0.18" >100</text>
<line x1="183.50" y1="206.40" x2="185.90" y2="206.40" stroke="#3a3a3a" stroke-width="1.0" />
<text x="188.50" y="209.40" font-family="Liberation Serif, serif" font-size="9.3" text-anchor="start" fill="#111" stroke="#111" stroke-width="0.18" >150</text>
<line x1="48.70" y1="304.50" x2="48.70" y2="306.90" stroke="#3a3a3a" stroke-width="0.8" />
<text x="48.70" y="316.70" font-family="Liberation Serif, serif" font-size="9.3" text-anchor="middle" fill="#111" stroke="#111" stroke-width="0.18" >0</text>
<line x1="73.20" y1="304.50" x2="73.20" y2="306.90" stroke="#3a3a3a" stroke-width="0.8" />
<text x="73.20" y="316.70" font-family="Liberation Serif, serif" font-size="9.3" text-anchor="middle" fill="#111" stroke="#111" stroke-width="0.18" >10%</text>
<line x1="97.70" y1="304.50" x2="97.70" y2="306.90" stroke="#3a3a3a" stroke-width="0.8" />
<text x="97.70" y="316.70" font-family="Liberation Serif, serif" font-size="9.3" text-anchor="middle" fill="#111" stroke="#111" stroke-width="0.18" >20%</text>
<line x1="122.20" y1="304.50" x2="122.20" y2="306.90" stroke="#3a3a3a" stroke-width="0.8" />
<text x="122.20" y="316.70" font-family="Liberation Serif, serif" font-size="9.3" text-anchor="middle" fill="#111" stroke="#111" stroke-width="0.18" >30%</text>
<line x1="146.70" y1="304.50" x2="146.70" y2="306.90" stroke="#3a3a3a" stroke-width="0.8" />
<text x="146.70" y="316.70" font-family="Liberation Serif, serif" font-size="9.3" text-anchor="middle" fill="#111" stroke="#111" stroke-width="0.18" >40%</text>
<line x1="171.20" y1="304.50" x2="171.20" y2="306.90" stroke="#3a3a3a" stroke-width="0.8" />
<text x="171.20" y="316.70" font-family="Liberation Serif, serif" font-size="9.3" text-anchor="middle" fill="#111" stroke="#111" stroke-width="0.18" >50%</text>
<text x="113.00" y="329.20" font-family="Liberation Serif, serif" font-size="9.6" text-anchor="middle" fill="#111" stroke="#111" stroke-width="0.18" textLength="106.00" lengthAdjust="spacingAndGlyphs" >shii-take mushroom ratio (%)</text>
<text x="14.80" y="254.30" font-family="Liberation Serif, serif" font-size="10.0" text-anchor="middle" fill="#111" stroke="#111" stroke-width="0.18" textLength="54.90" lengthAdjust="spacingAndGlyphs" transform="rotate(-90 14.80 254.30)" >percentage (%)</text>
<text x="207.60" y="255.20" font-family="Liberation Serif, serif" font-size="9.6" text-anchor="middle" fill="#111" stroke="#111" stroke-width="0.18" textLength="88.90" lengthAdjust="spacingAndGlyphs" transform="rotate(90 207.60 255.20)" >lycopene content (μg/g )</text>
<polyline points="48.70,210.40 73.20,219.60 97.70,222.30 122.20,229.20 146.70,229.20 171.20,238.90" fill="none" stroke="#1a1a1a" stroke-width="0.8"/>
<line x1="48.70" y1="206.10" x2="48.70" y2="214.70" stroke="#1a1a1a" stroke-width="0.8" />
<line x1="47.80" y1="206.10" x2="49.60" y2="206.10" stroke="#1a1a1a" stroke-width="0.8" />
<line x1="47.80" y1="214.70" x2="49.60" y2="214.70" stroke="#1a1a1a" stroke-width="0.8" />
<line x1="73.20" y1="213.80" x2="73.20" y2="225.40" stroke="#1a1a1a" stroke-width="0.8" />
<line x1="72.30" y1="213.80" x2="74.10" y2="213.80" stroke="#1a1a1a" stroke-width="0.8" />
<line x1="72.30" y1="225.40" x2="74.10" y2="225.40" stroke="#1a1a1a" stroke-width="0.8" />
<line x1="97.70" y1="220.30" x2="97.70" y2="224.30" stroke="#1a1a1a" stroke-width="0.8" />
<line x1="96.80" y1="220.30" x2="98.60" y2="220.30" stroke="#1a1a1a" stroke-width="0.8" />
<line x1="96.80" y1="224.30" x2="98.60" y2="224.30" stroke="#1a1a1a" stroke-width="0.8" />
<line x1="122.20" y1="226.20" x2="122.20" y2="232.20" stroke="#1a1a1a" stroke-width="0.8" />
<line x1="121.30" y1="226.20" x2="123.10" y2="226.20" stroke="#1a1a1a" stroke-width="0.8" />
<line x1="121.30" y1="232.20" x2="123.10" y2="232.20" stroke="#1a1a1a" stroke-width="0.8" />
<line x1="146.70" y1="224.00" x2="146.70" y2="234.40" stroke="#1a1a1a" stroke-width="0.8" />
<line x1="145.80" y1="224.00" x2="147.60" y2="224.00" stroke="#1a1a1a" stroke-width="0.8" />
<line x1="145.80" y1="234.40" x2="147.60" y2="234.40" stroke="#1a1a1a" stroke-width="0.8" />
<line x1="171.20" y1="228.20" x2="171.20" y2="249.60" stroke="#1a1a1a" stroke-width="0.8" />
<line x1="170.30" y1="228.20" x2="172.10" y2="228.20" stroke="#1a1a1a" stroke-width="0.8" />
<line x1="170.30" y1="249.60" x2="172.10" y2="249.60" stroke="#1a1a1a" stroke-width="0.8" />
<circle cx="48.70" cy="210.40" r="1.3" fill="#1a1a1a"/>
<circle cx="73.20" cy="219.60" r="1.3" fill="#1a1a1a"/>
<circle cx="97.70" cy="222.30" r="1.3" fill="#1a1a1a"/>
<circle cx="122.20" cy="229.20" r="1.3" fill="#1a1a1a"/>
<circle cx="146.70" cy="229.20" r="1.3" fill="#1a1a1a"/>
<circle cx="171.20" cy="238.90" r="1.3" fill="#1a1a1a"/>
<polyline points="48.70,301.80 73.20,301.80 97.70,301.80 122.20,299.70 146.70,298.30 171.20,298.60" fill="none" stroke="#d85ae8" stroke-width="1.0"/>
<circle cx="48.70" cy="301.80" r="1.0" fill="#c83ad8"/>
<circle cx="73.20" cy="301.80" r="1.0" fill="#c83ad8"/>
<circle cx="97.70" cy="301.80" r="1.0" fill="#c83ad8"/>
<circle cx="122.20" cy="299.70" r="1.0" fill="#c83ad8"/>
<circle cx="146.70" cy="298.30" r="1.0" fill="#c83ad8"/>
<circle cx="171.20" cy="298.60" r="1.0" fill="#c83ad8"/>
<polyline points="48.70,300.10 73.20,297.80 97.70,295.30 122.20,295.20 146.70,294.40 171.20,293.40" fill="none" stroke="#2b882b" stroke-width="1.0"/>
<line x1="171.20" y1="291.90" x2="171.20" y2="294.90" stroke="#2b882b" stroke-width="0.8" />
<line x1="170.30" y1="291.90" x2="172.10" y2="291.90" stroke="#2b882b" stroke-width="0.8" />
<line x1="170.30" y1="294.90" x2="172.10" y2="294.90" stroke="#2b882b" stroke-width="0.8" />
<circle cx="48.70" cy="300.10" r="1.3" fill="#2b882b"/>
<circle cx="73.20" cy="297.80" r="1.3" fill="#2b882b"/>
<circle cx="97.70" cy="295.30" r="1.3" fill="#2b882b"/>
<circle cx="122.20" cy="295.20" r="1.3" fill="#2b882b"/>
<circle cx="146.70" cy="294.40" r="1.3" fill="#2b882b"/>
<circle cx="171.20" cy="293.40" r="1.3" fill="#2b882b"/>
<polyline points="48.70,297.40 73.20,294.90 97.70,294.10 122.20,290.00 146.70,291.60 171.20,290.40" fill="none" stroke="#2f2fe6" stroke-width="1.0"/>
<line x1="97.70" y1="292.60" x2="97.70" y2="295.60" stroke="#2f2fe6" stroke-width="0.8" />
<line x1="96.80" y1="292.60" x2="98.60" y2="292.60" stroke="#2f2fe6" stroke-width="0.8" />
<line x1="96.80" y1="295.60" x2="98.60" y2="295.60" stroke="#2f2fe6" stroke-width="0.8" />
<line x1="122.20" y1="288.00" x2="122.20" y2="292.00" stroke="#2f2fe6" stroke-width="0.8" />
<line x1="121.30" y1="288.00" x2="123.10" y2="288.00" stroke="#2f2fe6" stroke-width="0.8" />
<line x1="121.30" y1="292.00" x2="123.10" y2="292.00" stroke="#2f2fe6" stroke-width="0.8" />
<line x1="146.70" y1="289.60" x2="146.70" y2="293.60" stroke="#2f2fe6" stroke-width="0.8" />
<line x1="145.80" y1="289.60" x2="147.60" y2="289.60" stroke="#2f2fe6" stroke-width="0.8" />
<line x1="145.80" y1="293.60" x2="147.60" y2="293.60" stroke="#2f2fe6" stroke-width="0.8" />
<line x1="171.20" y1="287.90" x2="171.20" y2="292.90" stroke="#2f2fe6" stroke-width="0.8" />
<line x1="170.30" y1="287.90" x2="172.10" y2="287.90" stroke="#2f2fe6" stroke-width="0.8" />
<line x1="170.30" y1="292.90" x2="172.10" y2="292.90" stroke="#2f2fe6" stroke-width="0.8" />
<circle cx="48.70" cy="297.40" r="1.3" fill="#2f2fe6"/>
<circle cx="73.20" cy="294.90" r="1.3" fill="#2f2fe6"/>
<circle cx="97.70" cy="294.10" r="1.3" fill="#2f2fe6"/>
<circle cx="122.20" cy="290.00" r="1.3" fill="#2f2fe6"/>
<circle cx="146.70" cy="291.60" r="1.3" fill="#2f2fe6"/>
<circle cx="171.20" cy="290.40" r="1.3" fill="#2f2fe6"/>
<polyline points="48.70,294.40 73.20,287.00 97.70,278.80 122.20,274.10 146.70,273.60 171.20,271.60" fill="none" stroke="#ff2a2a" stroke-width="1.0"/>
<line x1="73.20" y1="285.00" x2="73.20" y2="289.00" stroke="#ff2a2a" stroke-width="0.8" />
<line x1="72.30" y1="285.00" x2="74.10" y2="285.00" stroke="#ff2a2a" stroke-width="0.8" />
<line x1="72.30" y1="289.00" x2="74.10" y2="289.00" stroke="#ff2a2a" stroke-width="0.8" />
<line x1="97.70" y1="273.80" x2="97.70" y2="283.80" stroke="#ff2a2a" stroke-width="0.8" />
<line x1="96.80" y1="273.80" x2="98.60" y2="273.80" stroke="#ff2a2a" stroke-width="0.8" />
<line x1="96.80" y1="283.80" x2="98.60" y2="283.80" stroke="#ff2a2a" stroke-width="0.8" />
<line x1="122.20" y1="272.10" x2="122.20" y2="276.10" stroke="#ff2a2a" stroke-width="0.8" />
<line x1="121.30" y1="272.10" x2="123.10" y2="272.10" stroke="#ff2a2a" stroke-width="0.8" />
<line x1="121.30" y1="276.10" x2="123.10" y2="276.10" stroke="#ff2a2a" stroke-width="0.8" />
<circle cx="48.70" cy="294.40" r="1.3" fill="#ff2a2a"/>
<circle cx="73.20" cy="287.00" r="1.3" fill="#ff2a2a"/>
<circle cx="97.70" cy="278.80" r="1.3" fill="#ff2a2a"/>
<circle cx="122.20" cy="274.10" r="1.3" fill="#ff2a2a"/>
<circle cx="146.70" cy="273.60" r="1.3" fill="#ff2a2a"/>
<circle cx="171.20" cy="271.60" r="1.3" fill="#ff2a2a"/>
<polyline points="48.70,219.30 73.20,226.30 97.70,231.60 122.20,238.90 146.70,240.50 171.20,242.60" fill="none" stroke="#aa2cc2" stroke-width="1.0"/>
<line x1="73.20" y1="224.80" x2="73.20" y2="227.80" stroke="#8a12ae" stroke-width="0.8" />
<line x1="72.30" y1="224.80" x2="74.10" y2="224.80" stroke="#8a12ae" stroke-width="0.8" />
<line x1="72.30" y1="227.80" x2="74.10" y2="227.80" stroke="#8a12ae" stroke-width="0.8" />
<line x1="97.70" y1="230.10" x2="97.70" y2="233.10" stroke="#8a12ae" stroke-width="0.8" />
<line x1="96.80" y1="230.10" x2="98.60" y2="230.10" stroke="#8a12ae" stroke-width="0.8" />
<line x1="96.80" y1="233.10" x2="98.60" y2="233.10" stroke="#8a12ae" stroke-width="0.8" />
<line x1="122.20" y1="237.40" x2="122.20" y2="240.40" stroke="#8a12ae" stroke-width="0.8" />
<line x1="121.30" y1="237.40" x2="123.10" y2="237.40" stroke="#8a12ae" stroke-width="0.8" />
<line x1="121.30" y1="240.40" x2="123.10" y2="240.40" stroke="#8a12ae" stroke-width="0.8" />
<line x1="171.20" y1="241.60" x2="171.20" y2="243.60" stroke="#8a12ae" stroke-width="0.8" />
<line x1="170.30" y1="241.60" x2="172.10" y2="241.60" stroke="#8a12ae" stroke-width="0.8" />
<line x1="170.30" y1="243.60" x2="172.10" y2="243.60" stroke="#8a12ae" stroke-width="0.8" />
<circle cx="48.70" cy="219.30" r="1.3" fill="#8a12ae"/>
<circle cx="73.20" cy="226.30" r="1.3" fill="#8a12ae"/>
<circle cx="97.70" cy="231.60" r="1.3" fill="#8a12ae"/>
<circle cx="122.20" cy="238.90" r="1.3" fill="#8a12ae"/>
<circle cx="146.70" cy="240.50" r="1.3" fill="#8a12ae"/>
<circle cx="171.20" cy="242.60" r="1.3" fill="#8a12ae"/>
<line x1="220.90" y1="180.90" x2="231.70" y2="180.90" stroke="#aa2cc2" stroke-width="1.0" stroke-opacity="0.85"/>
<circle cx="226.30" cy="180.90" r="1.25" fill="#8a12ae"/>
<text x="237.60" y="183.80" font-family="Liberation Serif, serif" font-size="8.9" text-anchor="start" fill="#222" stroke="#222" stroke-width="0.08" textLength="17.80" lengthAdjust="spacingAndGlyphs" >All-E</text>
<line x1="220.90" y1="191.20" x2="231.70" y2="191.20" stroke="#ff2a2a" stroke-width="1.0" stroke-opacity="0.85"/>
<circle cx="226.30" cy="191.20" r="1.25" fill="#ff2a2a"/>
<text x="237.60" y="194.10" font-family="Liberation Serif, serif" font-size="8.9" text-anchor="start" fill="#222" stroke="#222" stroke-width="0.08" textLength="12.10" lengthAdjust="spacingAndGlyphs" >5-Z</text>
<line x1="220.90" y1="201.70" x2="231.70" y2="201.70" stroke="#2f2fe6" stroke-width="1.0" stroke-opacity="0.85"/>
<circle cx="226.30" cy="201.70" r="1.25" fill="#2f2fe6"/>
<text x="237.60" y="204.60" font-family="Liberation Serif, serif" font-size="8.9" text-anchor="start" fill="#222" stroke="#222" stroke-width="0.08" textLength="12.10" lengthAdjust="spacingAndGlyphs" >9-Z</text>
<line x1="220.90" y1="212.30" x2="231.70" y2="212.30" stroke="#2b882b" stroke-width="1.0" stroke-opacity="0.85"/>
<circle cx="226.30" cy="212.30" r="1.25" fill="#2b882b"/>
<text x="237.60" y="215.20" font-family="Liberation Serif, serif" font-size="8.9" text-anchor="start" fill="#222" stroke="#222" stroke-width="0.08" textLength="16.20" lengthAdjust="spacingAndGlyphs" >13-Z</text>
<line x1="220.90" y1="221.30" x2="231.70" y2="221.30" stroke="#d85ae8" stroke-width="1.0" stroke-opacity="0.85"/>
<circle cx="226.30" cy="221.30" r="1.25" fill="#d85ae8"/>
<text x="237.53 242.37 245.26 249.37 253.72 257.34" y="224.50" font-family="Liberation Serif, serif" font-size="8.8" fill="#666" stroke="#666" stroke-width="0.1" xml:space="preserve">others</text>
<line x1="220.90" y1="232.00" x2="231.70" y2="232.00" stroke="#1a1a1a" stroke-width="1.0" stroke-opacity="0.85"/>
<circle cx="226.30" cy="232.00" r="1.25" fill="#1a1a1a"/>
<text x="238.55 241.52 246.45 249.67 254.35 258.42 262.25 265.22 269.42 273.12 277.07 281.27 284.97 289.16" y="235.20" font-family="Liberation Serif, serif" font-size="8.8" fill="#666" stroke="#666" stroke-width="0.1" xml:space="preserve">total lycopene</text>
</svg>
</body></html>
